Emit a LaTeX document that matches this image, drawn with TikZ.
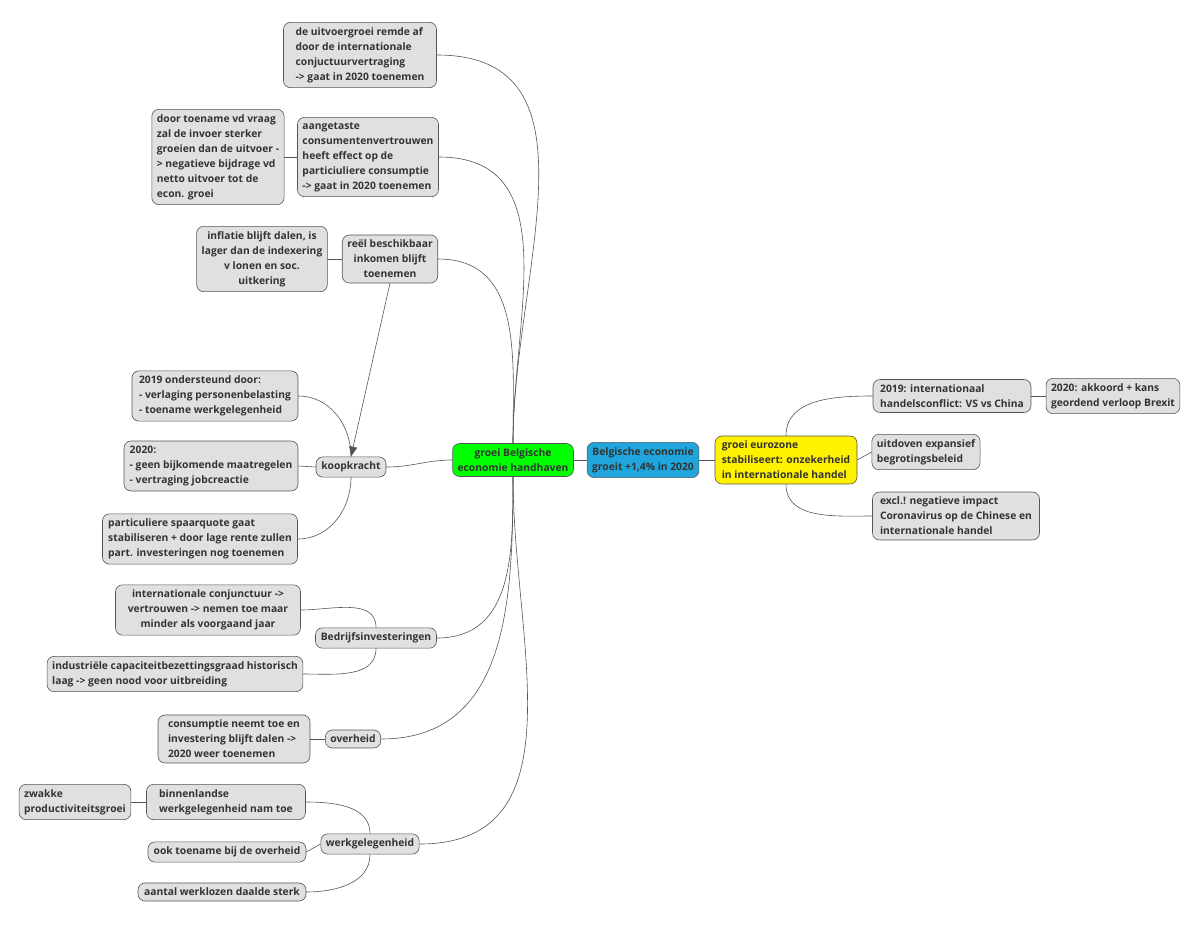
\documentclass[tikz,border=0pt]{standalone}
\usepackage{fontspec}
\setmainfont{Open Sans}
\usetikzlibrary{arrows.meta}
\definecolor{bx}{HTML}{E0E0E0}
\definecolor{ln}{HTML}{555555}
\definecolor{tx}{HTML}{333333}
\begin{document}
\begin{tikzpicture}[x=1pt,y=-1pt,
  b/.style={draw=ln,fill=bx,rounded corners=7pt,font=\bfseries\fontsize{10.3}{15}\selectfont,text=tx,inner xsep=5pt,inner ysep=5pt,align=left,line width=0.6pt},
  c/.style={b,align=center},
  w/.style={minimum width=#1pt},
  e/.style={draw=ln,line width=0.6pt}]
\useasboundingbox (0,0) rectangle (1200,927);
\node[b,w=153] (A) at (360,55) {de uitvoergroei remde af\\door de internationale\\conjuctuurvertraging\\-> gaat in 2020 toenemen};
\node[b,w=130] (B) at (218,157) {door toename vd vraag\\zal de invoer sterker\\groeien dan de uitvoer -\\> negatieve bijdrage vd\\netto uitvoer tot de\\econ. groei};
\node[b,w=138] (C) at (368,157) {aangetaste\\consumentenvertrouwen\\heeft effect op de\\particiuliere consumptie\\-> gaat in 2020 toenemen};
\node[c,w=129] (D) at (262,259) {inflatie blijft dalen, is\\lager dan de indexering\\v lonen en soc.\\uitkering};
\node[c,w=94] (E) at (390,259) {reël beschikbaar\\inkomen blijft\\toenemen};
\node[b,w=166] (F) at (215,396) {2019 ondersteund door:\\- verlaging personenbelasting\\- toename werkgelegenheid};
\node[b,w=174] (G) at (211,466) {2020:\\- geen bijkomende maatregelen\\- vertraging jobcreactie};
\node[b,w=195] (H) at (200,539) {particuliere spaarquote gaat\\stabiliseren + door lage rente zullen\\part. investeringen nog toenemen};
\node[c,w=70] (K) at (351,467) {koopkracht};
\node[c,fill=green,w=120] (R) at (513,460) {groei Belgische\\economie handhaven};
\node[c,fill={rgb,255:red,32;green,166;blue,220},w=110] (BE) at (643,460) {Belgische economie\\groeit +1,4\% in 2020};
\node[b,fill=yellow,w=142] (Y) at (786,460) {groei eurozone\\stabiliseert: onzekerheid\\in internationale handel};
\node[b,w=158] (Y1) at (952,396) {2019: internationaal\\handelsconflict: VS vs China};
\node[b,w=132] (Y1a) at (1113,396) {2020: akkoord + kans\\geordend verloop Brexit};
\node[b,w=106] (Y2) at (926,452) {uitdoven expansief\\begrotingsbeleid};
\node[b,w=167] (Y3) at (956,516) {excl.! negatieve impact\\Coronavirus op de Chinese en\\internationale handel};
\node[c,w=185] (I1) at (208,610) {internationale conjunctuur ->\\vertrouwen -> nemen toe maar\\minder als voorgaand jaar};
\node[c,w=121] (I) at (376,638) {Bedrijfsinvesteringen};
\node[b,w=252] (I2) at (175,674) {industriële capaciteitbezettingsgraad historisch\\laag -> geen nood voor uitbreiding};
\node[b,w=152] (O1) at (234,739) {consumptie neemt toe en\\investering blijft dalen ->\\2020 weer toenemen};
\node[c,w=55] (O) at (353,739) {overheid};
\node[b,w=159] (W1) at (226,802) {binnenlandse\\werkgelegenheid nam toe};
\node[b,w=110] (Z) at (75,802) {zwakke\\productiviteitsgroei};
\node[c,w=97] (W) at (370,844) {werkgelegenheid};
\node[b,w=158] (W2) at (227,852) {ook toename bij de overheid};
\node[b,w=168] (W3) at (222,892) {aantal werklozen daalde sterk};
% connectors
\foreach \n in {A,C,E} \draw[e] (R.north) to[out=90,in=0,looseness=1.1] (\n.east);
\draw[e] (R.west) to[out=180,in=0] (K.east);
\foreach \n in {I,O,W} \draw[e] (R.south) to[out=-90,in=0,looseness=1.1] (\n.east);
\draw[e] (R) -- (BE); \draw[e] (BE) -- (Y);
\draw[e] (B) -- (C); \draw[e] (D) -- (E); \draw[e] (Z) -- (W1); \draw[e] (Y1) -- (Y1a);
\draw[e] (Y.north) to[out=90,in=180] (Y1.west);
\draw[e] (Y.east) -- (Y2.west);
\draw[e] (Y.south) to[out=-90,in=180] (Y3.west);
\draw[e] (K.north) to[out=90,in=0] (F.east);
\draw[e] (K.west) -- (G.east);
\draw[e] (K.south) to[out=-90,in=0] (H.east);
\draw[e] (I.north) to[out=90,in=0] (I1.east);
\draw[e] (I.south) to[out=-90,in=0] (I2.east);
\draw[e] (O.west) -- (O1.east);
\draw[e] (W.north) to[out=90,in=0] (W1.east);
\draw[e] (W.west) -- (W2.east);
\draw[e] (W.south) to[out=-90,in=0] (W3.east);
\draw[e,-{Triangle[length=10pt,width=8pt,fill=ln]}] (E.south) -- (K.north);
\end{tikzpicture}
\end{document}
